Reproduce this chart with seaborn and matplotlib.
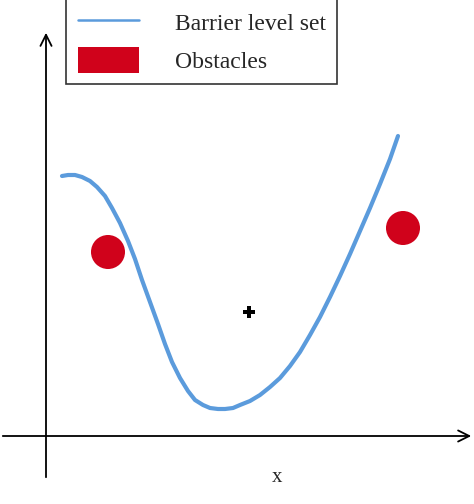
import matplotlib
matplotlib.use("Agg")
from matplotlib import pyplot as plt
from matplotlib.patches import Patch
from matplotlib.lines import Line2D
import seaborn as sns
import pandas as pd

# barrier curve (pixel-like units, y up)
curve_x = [62, 68, 75, 82, 90, 97, 105, 112, 120, 128, 135, 142, 150, 158, 165, 172, 180, 188, 195, 203,
           210, 218, 225, 233, 240, 250, 260, 270, 280, 290, 300, 310, 320, 330, 340, 350, 360, 370, 380, 390, 398]
curve_y = [328, 329, 329, 327, 323, 317, 308, 296, 281, 263, 245, 224, 202, 180, 160, 142, 126, 113, 104, 99,
           96, 95, 95, 96, 99, 103, 109, 117, 126, 138, 152, 169, 187, 207, 228, 250, 273, 296, 320, 345, 368]
obstacle_x = [108, 403]
obstacle_y = [252, 276]
point_x = [249]
point_y = [192]

sns.set_theme(style="white")
plt.rcParams['font.family'] = ['Liberation Serif', 'DejaVu Serif']

fig = plt.figure(figsize=(4.74, 5.04), dpi=100)
ax = fig.add_axes([0, 0, 1, 1])
ax.set_xlim(0, 474)
ax.set_ylim(0, 504)
ax.axis('off')

df = pd.DataFrame({'x': curve_x, 'y': curve_y})
sns.lineplot(data=df, x='x', y='y', sort=False, color='#5b9bdc', linewidth=3, ax=ax)
sns.scatterplot(x=obstacle_x, y=obstacle_y, s=600, color='#d0021b', edgecolor='none', ax=ax)
sns.scatterplot(x=point_x, y=point_y, s=70, marker='P', color='black', edgecolor='none', ax=ax)

arrow = dict(arrowstyle='->', color='black', lw=1.3, mutation_scale=20)
ax.annotate('', xy=(474, 68), xytext=(0, 68), arrowprops=arrow)
ax.annotate('', xy=(46, 474), xytext=(46, 24), arrowprops=arrow)
ax.text(277, 26, 'x', fontsize=15, ha='center', va='center')

handles = [Line2D([0], [0], color='#5b9bdc', lw=1.8),
           Patch(facecolor='#d0021b', edgecolor='none')]
leg = ax.legend(handles, ['Barrier level set', 'Obstacles'], loc='upper left',
                bbox_to_anchor=(66 / 474, 1.005), fontsize=17, frameon=True,
                fancybox=False, edgecolor='black', handlelength=2.6, handleheight=1.3,
                borderpad=0.5, labelspacing=0.5, handletextpad=1.5, borderaxespad=0)
leg.get_frame().set_linewidth(1.2)

fig.savefig('out.png', dpi=100)
